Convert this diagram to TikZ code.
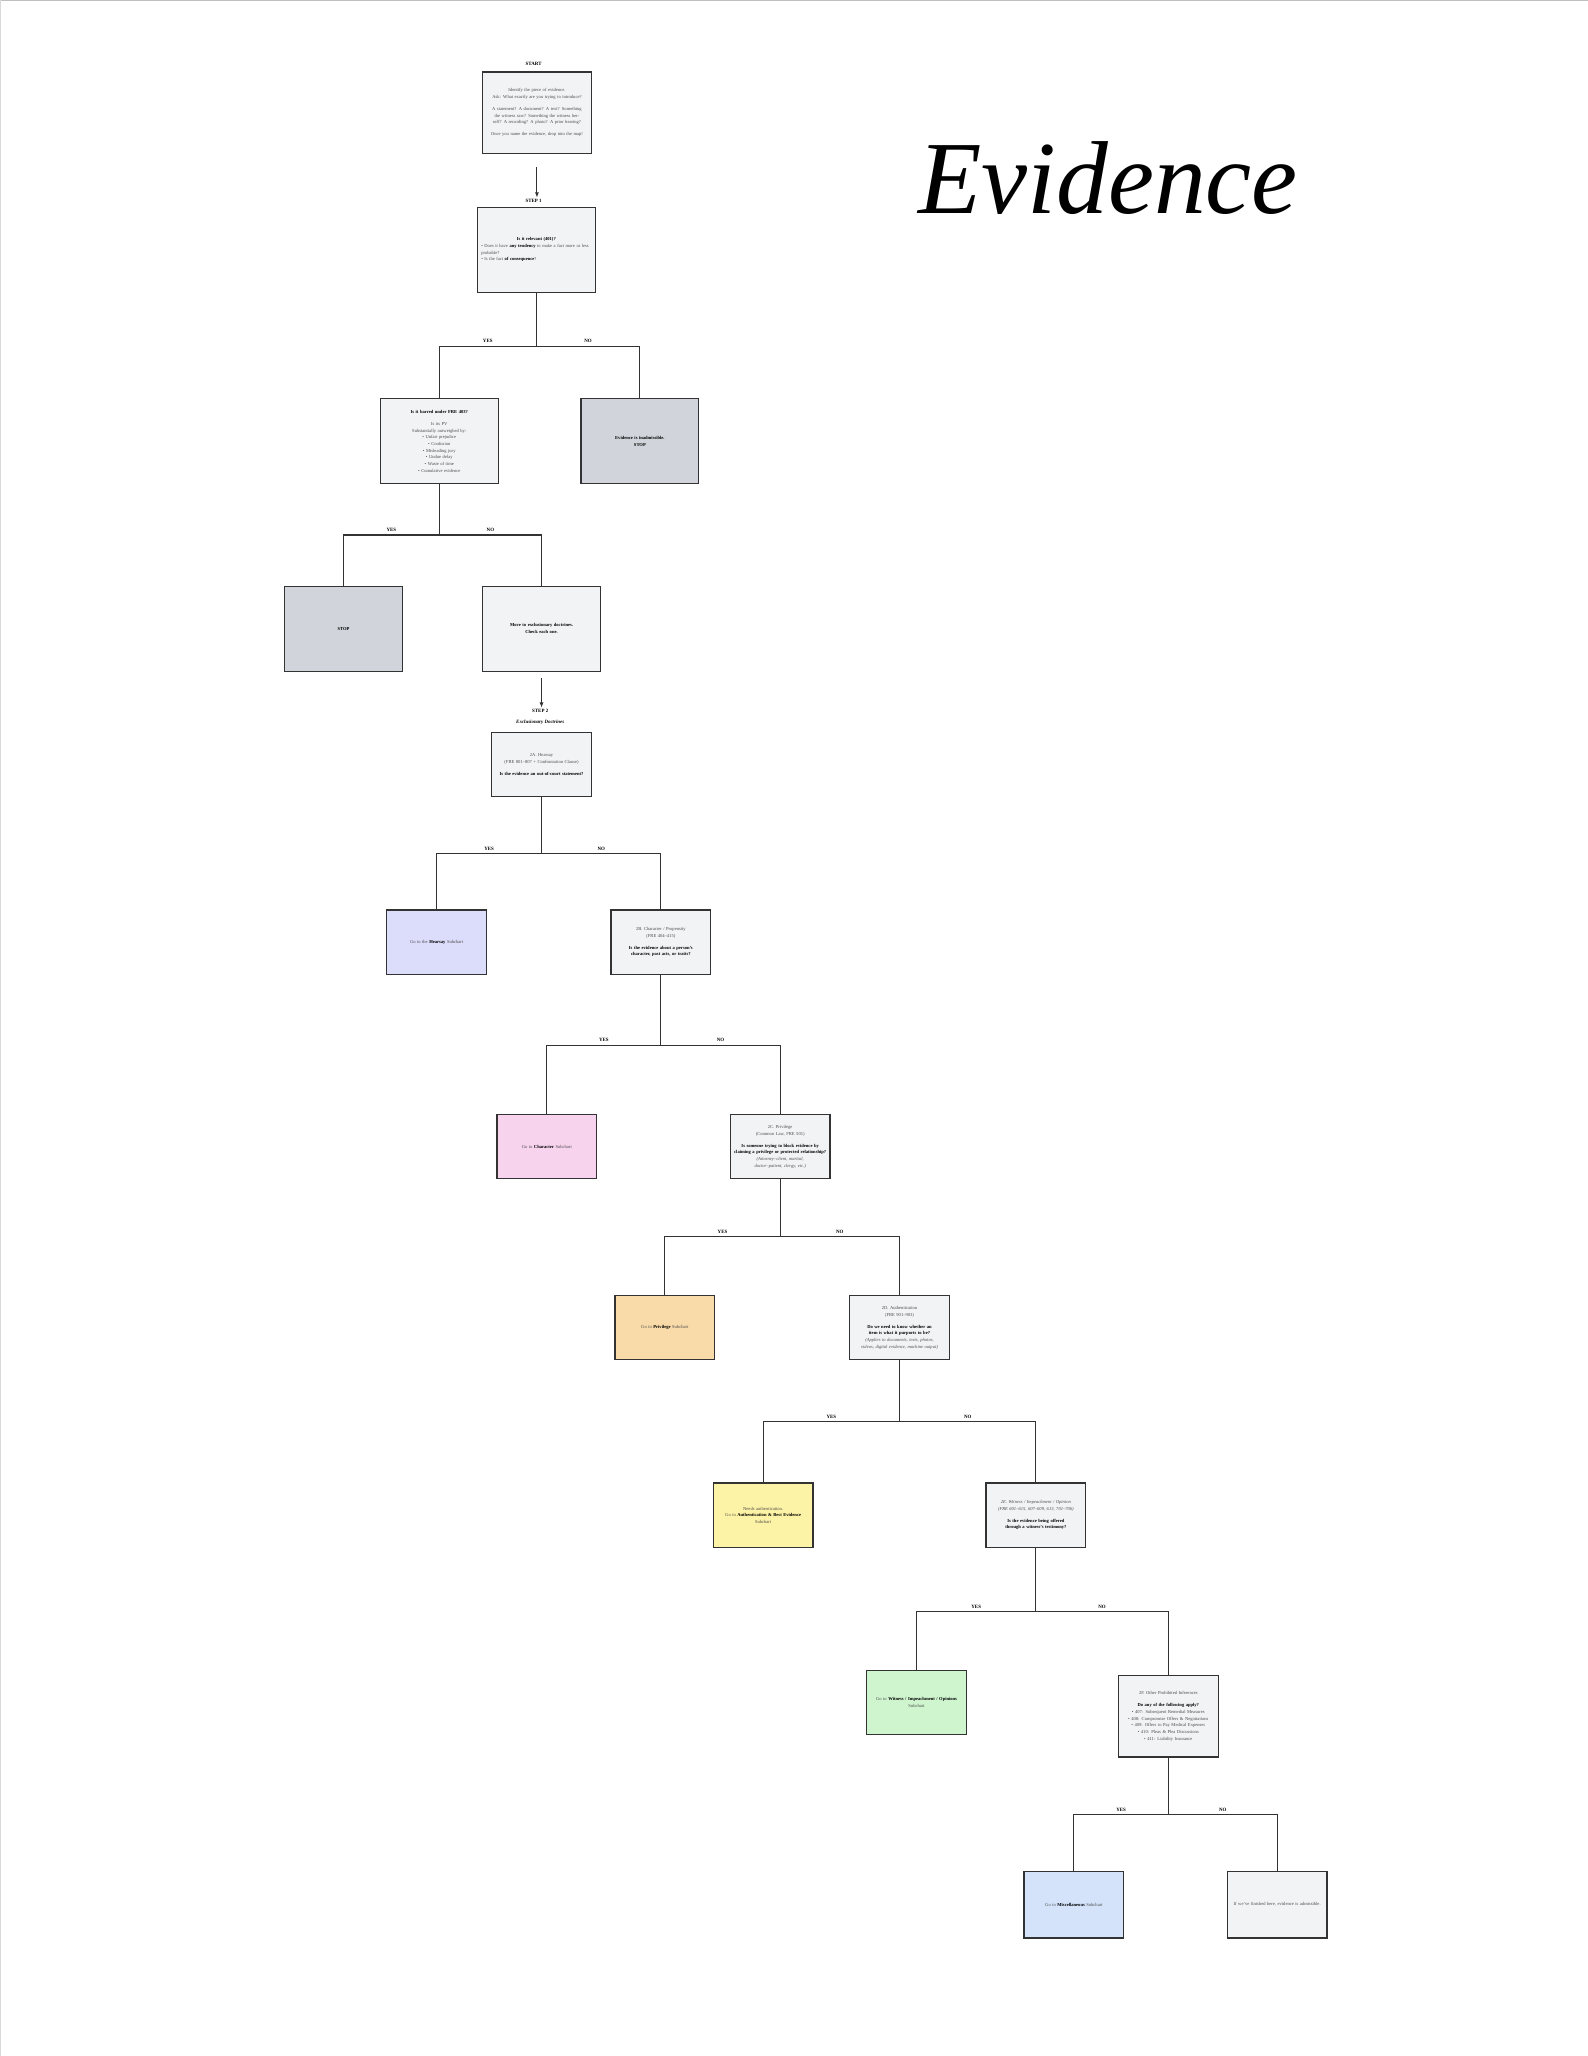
\documentclass[tikz,border=0pt]{standalone}
\usepackage{fontspec}
\setmainfont{Liberation Serif}
\usetikzlibrary{arrows.meta}
\definecolor{boxgray}{HTML}{F2F3F5}
\definecolor{stopgray}{HTML}{D1D5DB}
\definecolor{hearsayfill}{HTML}{DCDCFB}
\definecolor{charfill}{HTML}{F8D3EE}
\definecolor{privfill}{HTML}{F8DBA9}
\definecolor{authfill}{HTML}{FDF3A6}
\definecolor{witfill}{HTML}{CFF5CF}
\definecolor{miscfill}{HTML}{D4E3FA}
\newcommand\hi[1]{\textbf{\color{black}#1}}
\tikzset{
  qbox/.style={draw=black!80, line width=0.7pt, fill=boxgray, align=center,
    font=\fontsize{2.6}{3.8}\selectfont, text=black!70, inner sep=1pt},
  bigbox/.style={qbox, minimum width=2.36cm, minimum height=1.705cm, text width=2.2cm},
  smallbox/.style={qbox, minimum width=1.993cm, minimum height=1.285cm, text width=1.88cm},
  tag/.style={font=\fontsize{2.8}{3.4}\selectfont\bfseries, inner sep=0.6pt},
  link/.style={line width=0.6pt, draw=black!80},
  arr/.style={link, -{Latex[length=3pt,width=2.4pt]}},
}
\begin{document}
\begin{tikzpicture}[x=0.026226cm, y=-0.026226cm]
  \useasboundingbox (0,0) rectangle (1211,1568);
  \draw[black!25, line width=0.8pt] (0,0.5) -- (1211,0.5);
  \draw[black!15, line width=0.6pt] (0.5,0) -- (0.5,1568);

  \node (title) at (845,136) {\fontsize{59}{59}\selectfont\itshape Evidence};

  \node[tag] (startlab) at (407,49) {START};
  \node[bigbox, minimum width=2.18cm, minimum height=1.63cm, text width=2.05cm] (start) at (409.5,86)
    {Identify the piece of evidence.\\Ask: What exactly are you trying to introduce?\\[3pt]
     A statement? A document? A text? Something the witness saw? Something the witness herself? A recording? A photo? A prior hearing?\\[3pt]
     Once you name the evidence, drop into the map!};

  \node[tag] (step1lab) at (407,153) {STEP 1};
  \node[bigbox, align=left] (step1) at (409,190.5)
    {\makebox[\linewidth]{\hi{Is it relevant (401)?}}\\
     • Does it have \hi{any tendency} to make a fact more or less probable?\\
     • Is the fact \hi{of consequence}?};

  \node[bigbox] (fre403) at (335,336.5)
    {\hi{Is it barred under FRE 403?}\\[3pt]
     Is its PV\\Substantially outweighed by:\\• Unfair prejudice\\• Confusion\\• Misleading jury\\
     • Undue delay\\• Waste of time\\• Cumulative evidence};
  \node[bigbox, fill=stopgray] (inadm) at (488,336.5) {\hi{Evidence is inadmissible.}\\\hi{STOP}};

  \node[bigbox, fill=stopgray] (stopa) at (262,479.5) {\hi{STOP}};
  \node[bigbox] (excl) at (413,479.5) {\hi{Move to exclusionary doctrines.}\\\hi{Check each one.}};

  \node[tag] (step2lab) at (412,542) {STEP 2};
  \node[tag, font=\fontsize{2.8}{3.4}\selectfont\itshape\bfseries] (step2sub) at (412,551) {Exclusionary Doctrines};

  \node[smallbox] (hearsay) at (413,583)
    {2A. Hearsay\\(FRE 801–807 + Confrontation Clause)\\[3pt]\hi{Is the evidence an out-of-court statement?}};
  \node[smallbox, fill=hearsayfill] (hearsaysub) at (333,718.5) {Go to the \hi{Hearsay} Subchart};
  \node[smallbox] (character) at (504,718.5)
    {2B. Character / Propensity\\(FRE 404–415)\\[3pt]\hi{Is the evidence about a person's character, past acts, or traits?}};

  \node[smallbox, fill=charfill] (charsub) at (417,874.5) {Go to \hi{Character} Subchart};
  \node[smallbox] (privilege) at (595,874.5)
    {2C. Privilege\\(Common Law, FRE 501)\\[3pt]\hi{Is someone trying to block evidence by claiming a privilege or protected relationship?}\\
     \textit{(Attorney–client, marital, doctor–patient, clergy, etc.)}};

  \node[smallbox, fill=privfill] (privsub) at (507,1012.5) {Go to \hi{Privilege} Subchart};
  \node[smallbox] (auth) at (686,1012.5)
    {2D. Authentication\\(FRE 901–903)\\[3pt]\hi{Do we need to know whether an item is what it purports to be?}\\
     \textit{(Applies to documents, texts, photos, videos, digital evidence, machine output)}};

  \node[smallbox, fill=authfill] (authsub) at (582,1155.5)
    {Needs authentication.\\Go to \hi{Authentication \& Best Evidence}\\Subchart};
  \node[smallbox] (witness) at (790,1155.5)
    {\textit{2E. Witness / Impeachment / Opinion}\\\textit{(FRE 601–615, 607–609, 613, 701–706)}\\[3pt]\hi{Is the evidence being offered through a witness's testimony?}};

  \node[smallbox, fill=witfill] (witsub) at (699,1298.5) {Go to \hi{Witness / Impeachment / Opinions}\\Subchart};
  \node[smallbox, minimum height=1.626cm] (other) at (891,1309)
    {2F. Other Prohibited Inferences\\[3pt]\hi{Do any of the following apply?}\\
     • 407: Subsequent Remedial Measures\\• 408: Compromise Offers \& Negotiations\\
     • 409: Offers to Pay Medical Expenses\\• 410: Pleas \& Plea Discussions\\• 411: Liability Insurance};

  \node[smallbox, fill=miscfill, minimum height=1.337cm] (miscsub) at (819,1452.5) {Go to \hi{Miscellaneous} Subchart};
  \node[smallbox, minimum height=1.337cm] (final) at (974,1452.5) {If we've finished here, evidence is admissible.};

  \draw[arr, shorten <=0.26cm] (start.south) -- (start.south |- step1lab.north);
  \draw[arr, shorten <=0.13cm] (excl.south) -- (excl.south |- step2lab.north);

  \coordinate (j1) at (409,264);
  \draw[link] (step1.south) -- (j1);
  \draw[link] (j1) -| node[tag, pos=0.25, above=1pt] {YES} (fre403.north);
  \draw[link] (j1) -| node[tag, pos=0.25, above=1pt] {NO} (inadm.north);

  \coordinate (j2) at (335,408);
  \draw[link] (fre403.south) -- (j2);
  \draw[link] (j2) -| node[tag, pos=0.25, above=1pt] {YES} (stopa.north);
  \draw[link] (j2) -| node[tag, pos=0.25, above=1pt] {NO} (excl.north);

  \coordinate (j3) at (413,651);
  \draw[link] (hearsay.south) -- (j3);
  \draw[link] (j3) -| node[tag, pos=0.25, above=1pt] {YES} (hearsaysub.north);
  \draw[link] (j3) -| node[tag, pos=0.25, above=1pt] {NO} (character.north);

  \coordinate (j4) at (504,797);
  \draw[link] (character.south) -- (j4);
  \draw[link] (j4) -| node[tag, pos=0.25, above=1pt] {YES} (charsub.north);
  \draw[link] (j4) -| node[tag, pos=0.25, above=1pt] {NO} (privilege.north);

  \coordinate (j5) at (595,943);
  \draw[link] (privilege.south) -- (j5);
  \draw[link] (j5) -| node[tag, pos=0.25, above=1pt] {YES} (privsub.north);
  \draw[link] (j5) -| node[tag, pos=0.25, above=1pt] {NO} (auth.north);

  \coordinate (j6) at (686,1084);
  \draw[link] (auth.south) -- (j6);
  \draw[link] (j6) -| node[tag, pos=0.25, above=1pt] {YES} (authsub.north);
  \draw[link] (j6) -| node[tag, pos=0.25, above=1pt] {NO} (witness.north);

  \coordinate (j7) at (790,1229);
  \draw[link] (witness.south) -- (j7);
  \draw[link] (j7) -| node[tag, pos=0.25, above=1pt] {YES} (witsub.north);
  \draw[link] (j7) -| node[tag, pos=0.25, above=1pt] {NO} (other.north);

  \coordinate (j8) at (891,1384);
  \draw[link] (other.south) -- (j8);
  \draw[link] (j8) -| node[tag, pos=0.25, above=1pt] {YES} (miscsub.north);
  \draw[link] (j8) -| node[tag, pos=0.25, above=1pt] {NO} (final.north);
\end{tikzpicture}
\end{document}
